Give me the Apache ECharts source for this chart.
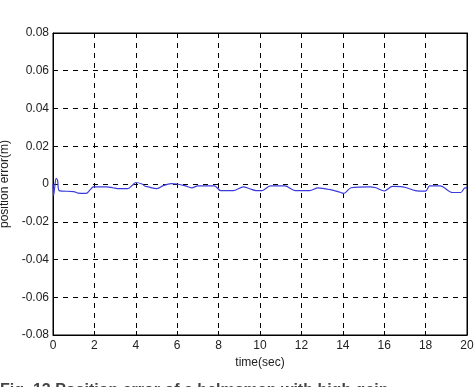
<!DOCTYPE html>
<html>
<head>
<meta charset="utf-8">
<script src="https://cdn.jsdelivr.net/npm/echarts@6/dist/echarts.min.js"></script>
<style>html,body{margin:0;padding:0;background:#fff}#c{width:474px;height:387px}</style>
</head>
<body>
<div id="c"></div>
<script>
const times = [0,0.03,0.08,0.15,0.22,0.3,1.0,1.2,1.6,1.8,1.95,2.6,2.9,3.2,3.6,3.85,4.0,4.3,4.45,4.6,5.0,5.3,5.7,6.0,6.4,6.7,7.0,7.8,8.1,8.7,9.2,9.5,9.8,10.1,10.5,11.2,11.7,12.4,12.8,13.4,13.9,14.05,14.4,15.3,15.6,16.0,16.4,16.9,17.5,18.0,18.2,18.7,19.3,19.7,19.9,20.0];
const errors = [0,-0.006,-0.002,0.003,0.002,-0.0035,-0.004,-0.0048,-0.005,-0.003,-0.0015,-0.0015,-0.002,-0.0025,-0.0025,-0.0005,0.0008,0.0,-0.0012,-0.0015,-0.0025,-0.001,0.0002,0.0,-0.001,-0.002,-0.001,-0.001,-0.0035,-0.0035,-0.0015,-0.0025,-0.0035,-0.0035,-0.001,-0.001,-0.0035,-0.0035,-0.002,-0.003,-0.0045,-0.005,-0.002,-0.0015,-0.002,-0.0037,-0.0013,-0.0015,-0.0035,-0.0038,-0.001,-0.001,-0.0045,-0.0045,-0.002,-0.002];
const xTicks = [0,2,4,6,8,10,12,14,16,18,20];
const yTicks = [-0.08,-0.06,-0.04,-0.02,0,0.02,0.04,0.06,0.08];
const xName = 'time(sec)';
const yName = 'position error(m)';
const caption = 'Fig. 13 Position error of a helmsman with high gain';

const font = 'Liberation Sans, Arial, sans-serif';
const chart = echarts.init(document.getElementById('c'), null, {renderer:'canvas'});
const dash = {color:'#000', width:1, type:[5,5]};
chart.setOption({
  animation:false,
  backgroundColor:'#fff',
  grid:{left:53, right:7, top:33, bottom:52, show:true, borderColor:'#000', borderWidth:1,
        containLabel:false, outerBoundsMode:'none'},
  xAxis:[{
    type:'value', min:xTicks[0], max:xTicks[xTicks.length-1], interval:2,
    name:xName, nameLocation:'middle', nameGap:19,
    nameTextStyle:{fontFamily:font, fontSize:12, color:'#222'},
    axisLine:{onZero:false, lineStyle:{color:'#000'}},
    axisTick:{inside:true, length:4, lineStyle:{color:'#000'}},
    axisLabel:{fontFamily:font, fontSize:12, color:'#222', margin:5},
    splitLine:{show:true, lineStyle:dash}
  },{
    type:'value', position:'top', min:xTicks[0], max:xTicks[xTicks.length-1], interval:2,
    axisLine:{onZero:false, lineStyle:{color:'#000'}},
    axisTick:{inside:true, length:4, lineStyle:{color:'#000'}},
    axisLabel:{show:false}, splitLine:{show:false}
  }],
  yAxis:[{
    type:'value', min:yTicks[0], max:yTicks[yTicks.length-1], interval:0.02,
    name:yName, nameLocation:'middle', nameGap:38,
    nameTextStyle:{fontFamily:font, fontSize:12, color:'#222'},
    axisLine:{show:true, onZero:false, lineStyle:{color:'#000'}},
    axisTick:{show:true, inside:true, length:4, lineStyle:{color:'#000'}},
    axisLabel:{fontFamily:font, fontSize:12, color:'#222', margin:4,
      formatter:v=>{const r=Math.round(v*100)/100; return r===0?'0':r.toFixed(2);}},
    splitLine:{show:true, lineStyle:dash}
  },{
    type:'value', position:'right', min:yTicks[0], max:yTicks[yTicks.length-1], interval:0.02,
    axisLine:{show:true, onZero:false, lineStyle:{color:'#000'}},
    axisTick:{show:true, inside:true, length:4, lineStyle:{color:'#000'}},
    axisLabel:{show:false}, splitLine:{show:false}
  }],
  series:[{
    type:'line', xAxisIndex:0, yAxisIndex:0, symbol:'none', smooth:0.3,
    lineStyle:{color:'#3b3bdc', width:1.2},
    data:times.map((t,i)=>[t, errors[i]])
  }],
  graphic:[{
    type:'text', left:0, top:383,
    style:{text:caption, font:'bold 16px Liberation Sans, Arial, sans-serif', fill:'#444'}
  }]
});
</script>
</body>
</html>
